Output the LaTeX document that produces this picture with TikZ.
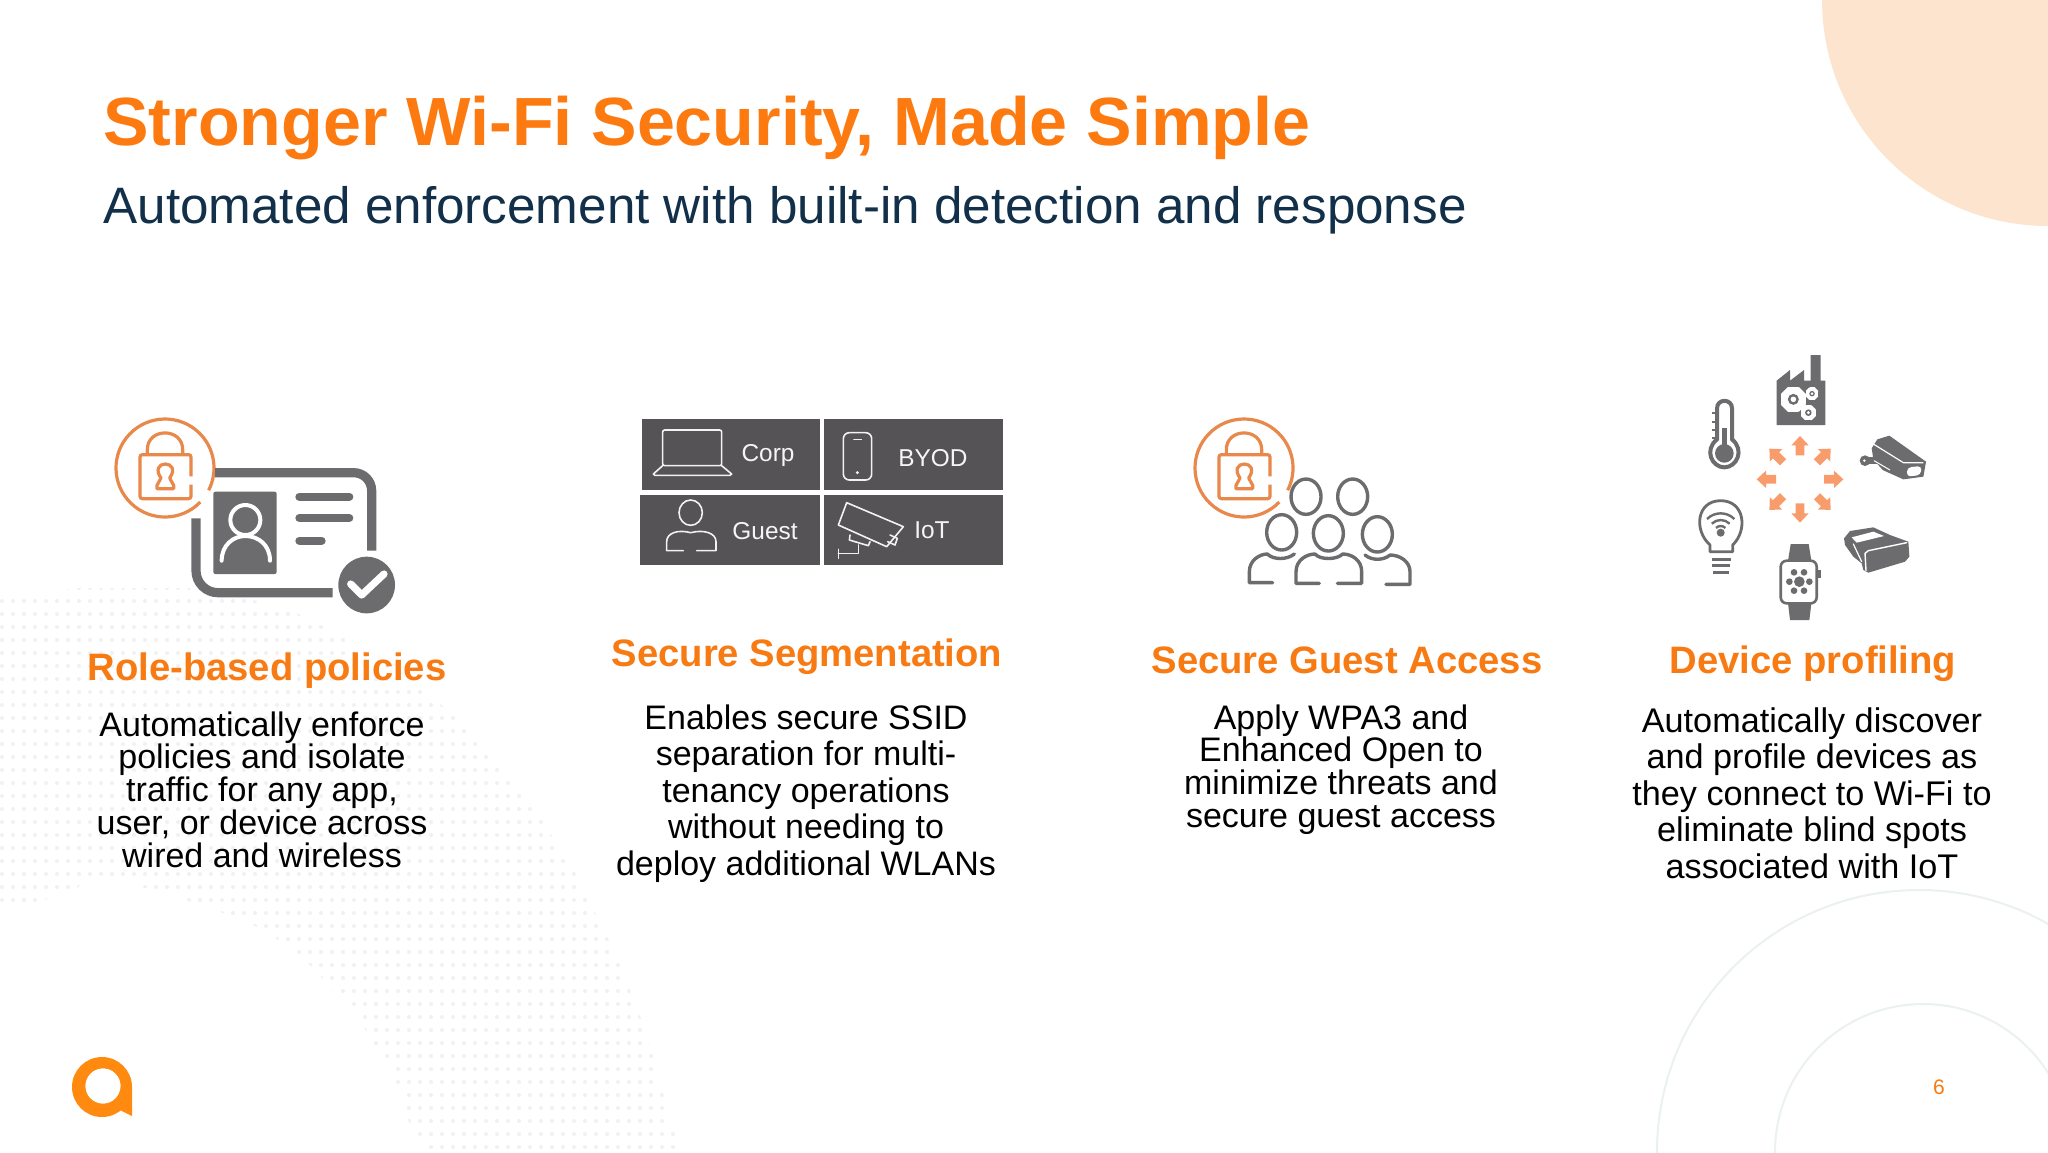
\documentclass[tikz,border=0pt]{standalone}
\usepackage{fontspec}
\setmainfont{Liberation Sans}
\definecolor{peach}{HTML}{FDE4CF}
\definecolor{ringc}{HTML}{EBF0F1}
\definecolor{dotc}{HTML}{F1F1F3}
\definecolor{headorange}{HTML}{F87A12}
\definecolor{titleorange}{HTML}{FC7A10}
\definecolor{navy}{HTML}{12304A}
\definecolor{logoor}{HTML}{FF8A0F}
\definecolor{lockor}{HTML}{E8884A}
\definecolor{icong}{HTML}{6C6C6E}
\definecolor{boxg}{HTML}{555355}
\definecolor{burstc}{HTML}{F99C6C}
\tikzset{
  headtext/.style={anchor=base,inner sep=0pt,text=headorange,font=\bfseries\fontsize{19.1}{22}\selectfont},
  bodytext/.style={anchor=north,align=center,inner sep=0pt,text=black},
  boxlabel/.style={inner sep=0pt,text=white!92!gray,font=\fontsize{12.2}{14}\selectfont},
  lockline/.style={draw=lockor,line width=1.6pt,fill=none},
  cardline/.style={draw=icong,line width=4.6pt,line cap=round},
  boxline/.style={draw=white!90!gray,line width=.8pt,line cap=round,line join=round},
  peopleline/.style={draw=icong,line width=1.7pt,line cap=round,line join=round},
  zoomscale/.style={x=.16667pt,y=-.16667pt}
}
\newcommand\locksign[1]{%
  \begin{scope}[shift={#1},zoomscale]
    \draw[lockline] (0,0) ++(44:147) arc[start angle=44,end angle=387,radius=147];
    \draw[lockline,rounded corners=1.2pt] (78,25) -- (78,-40) -- (-75,-40) -- (-75,92) -- (78,92) -- (78,50);
    \draw[lockline] (-53,-40) -- (-53,-55) .. controls (-53,-122) and (53,-122) .. (53,-55) -- (53,-40);
    \draw[lockline,line join=round] (-12,30) .. controls (-30,5) and (-18,-12) .. (1,-12) .. controls (20,-12) and (32,5) .. (14,30) -- (26,52) -- (26,62) -- (-24,62) -- (-24,52) -- cycle;
  \end{scope}}
\newcommand\burst[1]{%
  \begin{scope}[shift={(1800,479.3)},rotate=#1,zoomscale]
    \fill[burstc] (72,-13) -- (102,-13) -- (102,-26) -- (130,0) -- (102,26) -- (102,13) -- (72,13) -- cycle;
  \end{scope}}
\newcommand\gearz[3]{%
  \foreach \a in {0,45,...,315}{\draw[white,line width=#3] (#1) ++(\a:#2*.85) -- ++(\a:#2*.42);}
  \fill[white] (#1) circle[radius=#2];
  \fill[icong] (#1) circle[radius=#2*.55];
  \fill[white] (#1) circle[radius=#2*.28];}
\begin{document}
\begin{tikzpicture}[x=.5pt,y=-.5pt]
\useasboundingbox (0,0) rectangle (2048,1152);
\fill[white] (0,0) rectangle (2048,1152);
% background art
\begin{scope}
  \clip (0,0) rectangle (2048,1152);
  \fill[peach] (2048,0) circle[radius=226];
  \draw[ringc,line width=1pt] (1919,1152) circle[radius=262];
  \draw[ringc,line width=1pt] (1923,1152) circle[radius=148];
\end{scope}
\begin{scope}
  \clip (0,597) -- (80,588) -- (200,588) .. controls (260,600) and (300,612) .. (330,628)
     -- (375,655) -- (464,722) -- (527,798) -- (571,865) -- (616,954) -- (647,1034) -- (670,1119) -- (681,1152)
     -- (435,1152) -- (415,1141) -- (393,1074) -- (357,1016) -- (312,967) -- (268,932)
     .. controls (200,900) and (130,885) .. (94,873) -- (76,889) -- (27,905) -- (0,905) -- cycle;
  \fill[dotc] foreach \r in {0,...,44}{ foreach \c in {0,...,62}{ (\c*11+2,588+\r*13) circle[radius=2] } };
\end{scope}
% titles
\node[anchor=base west,inner sep=0pt,text=titleorange,font=\bfseries\fontsize{34.1}{38}\selectfont] (title) at (103,145) {Stronger Wi-Fi Security, Made Simple};
\node[anchor=base west,inner sep=0pt,text=navy,font=\fontsize{25.6}{30}\selectfont] (subtitle) at (103,223) {Automated enforcement with built-in detection and response};
% headings
\node[headtext] (h1) at (267,680) {Role-based policies};
\node[headtext] (h2) at (807,666) {Secure Segmentation};
\node[headtext] (h3) at (1347,673) {Secure Guest Access};
\node[headtext] (h4) at (1813,673) {Device profiling};
% bodies
\node[bodytext,font=\fontsize{17}{16.4}\selectfont] (b1) at (262,711) {Automatically enforce\\policies and isolate\\traffic for any app,\\user, or device across\\wired and wireless};
\node[bodytext,font=\fontsize{17}{18.3}\selectfont] (b2) at (806,704) {Enables secure SSID\\separation for multi-\\tenancy operations\\without needing to\\deploy additional WLANs};
\node[bodytext,font=\fontsize{17}{16.4}\selectfont] (b3) at (1341,704) {Apply WPA3 and\\Enhanced Open to\\minimize threats and\\secure guest access};
\node[bodytext,font=\fontsize{17.1}{18.3}\selectfont] (b4) at (1812,707) {Automatically discover\\and profile devices as\\they connect to Wi-Fi to\\eliminate blind spots\\associated with IoT};
\node[inner sep=0pt,text=headorange,font=\fontsize{10.5}{12}\selectfont] (pg) at (1939,1087) {6};
% logo
\fill[logoor,even odd rule] (102,1087) circle[radius=30] (103,1086) circle[radius=17.5];
\fill[logoor] (112,1110) -- (120,1110) -- (132,1116) -- (132,1087) -- (115,1087) -- cycle;
\fill[white] (103,1086) circle[radius=17.5];
% role icon
\locksign{(165,468)}
\begin{scope}[shift={(90,400)},zoomscale]
  \draw[cardline,rounded corners=9pt,line cap=butt] (375,218) -- (845,218) -- (845,452);
  \draw[cardline,rounded corners=11pt,line cap=butt] (318,355) -- (318,578) -- (728,578);
  \fill[icong,rounded corners=1pt] (370,275) rectangle (560,522);
  \draw[white,line width=2pt] (466,360) circle[radius=45];
  \draw[white,line width=2pt,line cap=round] (395,482) .. controls (395,435) and (430,408) .. (466,408) .. controls (505,408) and (540,435) .. (540,482);
  \draw[cardline,line width=4pt] (628,290) -- (778,290);
  \draw[cardline,line width=4pt] (628,354) -- (778,354);
  \draw[cardline,line width=4pt] (628,422) -- (695,422);
  \fill[icong] (830,555) circle[radius=85];
  \draw[white,line width=3.6pt,line cap=round,line join=round] (782,552) -- (815,585) -- (882,522);
\end{scope}
% segmentation box
\begin{scope}[shift={(620,400)},zoomscale]
  \fill[boxg] (65,58) rectangle (601,270);
  \fill[boxg] (612,58) rectangle (1150,270);
  \fill[boxg] (61,286) rectangle (601,496);
  \fill[boxg] (612,286) rectangle (1150,496);
  \draw[boxline,rounded corners=1pt] (128,197) -- (128,90) -- (305,90) -- (305,197) -- cycle;
  \draw[boxline] (128,197) -- (100,222) -- (105,226) -- (330,226) -- (335,222) -- (305,197);
  \draw[boxline,rounded corners=3pt] (670,98) rectangle (755,240);
  \draw[boxline] (702,118) -- (724,118);
  \fill[white!90!gray] (712,218) circle[radius=5];
  \draw[boxline] (212,338) ellipse[x radius=35,y radius=38];
  \draw[boxline] (190,452) -- (140,452) -- (140,425) .. controls (140,398) and (175,388) .. (212,398) .. controls (250,388) and (288,398) .. (288,425) -- (288,452) -- (230,452);
  \draw[boxline] (680,308) -- (850,380) -- (800,440) -- (655,375) -- cycle;
  \draw[boxline] (690,405) -- (688,420) -- (745,437) -- (750,425);
  \draw[boxline] (715,435) -- (715,460) -- (655,460);
  \draw[boxline] (655,448) -- (655,475);
  \draw[boxline] (810,405) -- (832,415) -- (825,435) -- (803,425);
\end{scope}
\node[boxlabel] (corp) at (768,456) {Corp};
\node[boxlabel] (byod) at (933,458) {BYOD};
\node[boxlabel] (guest) at (765,531) {Guest};
\node[boxlabel] (iot) at (932,530) {IoT};
% guest icon
\locksign{(1244,468)}
\begin{scope}[shift={(1180,400)},zoomscale]
  \draw[peopleline] (378,290) ellipse[x radius=45,y radius=53];
  \draw[peopleline] (518,290) ellipse[x radius=45,y radius=53];
  \draw[peopleline] (305,397) ellipse[x radius=45,y radius=53];
  \draw[peopleline] (445,400) ellipse[x radius=45,y radius=53];
  \draw[peopleline] (592,403) ellipse[x radius=45,y radius=53];
  \draw[peopleline] (278,548) -- (208,548) -- (208,515) .. controls (208,480) and (240,462) .. (262,462) .. controls (280,480) and (320,480) .. (343,462);
  \draw[peopleline] (418,550) -- (348,550) -- (348,515) .. controls (348,480) and (380,462) .. (405,462) .. controls (420,480) and (470,480) .. (488,462) .. controls (515,462) and (545,480) .. (545,515) -- (545,550) -- (472,550);
  \draw[peopleline] (555,465) .. controls (575,482) and (610,482) .. (630,465) .. controls (660,465) and (690,485) .. (690,515) -- (690,553) -- (618,553);
\end{scope}
% device profiling icon
\foreach \a in {0,45,...,315}{\burst{\a}}
\begin{scope}[shift={(1670,340)},zoomscale]
  % factory
  \fill[icong] (320,255) -- (320,122) -- (360,90) -- (360,122) -- (402,90) -- (402,122) -- (422,122) -- (422,45) -- (452,45) -- (452,122) -- (466,122) -- (466,255) -- cycle;
  \gearz{370,178}{30}{5pt}
  \gearz{426,161}{15}{2.5pt}
  \gearz{415,218}{18}{3pt}
  % thermometer
  \draw[icong,line width=2pt] (141,298) -- (141,205) .. controls (141,175) and (186,175) .. (186,205) -- (186,298) .. controls (225,330) and (200,382) .. (163,382) .. controls (126,382) and (101,330) .. (141,298) -- cycle;
  \fill[icong] (155,265) rectangle (172,320);
  \fill[icong] (163,340) circle[radius=28];
  \foreach \yy in {220,245,270,295}{\draw[icong,line width=1.1pt] (127,\yy) -- (141,\yy);}
  % bulb
  \draw[icong,line width=1.4pt,line join=round] (120,635) -- (120,615) .. controls (70,570) and (80,482) .. (152,482) .. controls (224,482) and (234,570) .. (188,615) -- (188,635) -- cycle;
  \foreach \yy/\xa/\xb in {658/125/183,677/127/181,697/130/177}{\draw[icong,line width=1.3pt] (\xa,\yy) -- (\xb,\yy);}
  \draw[icong,line width=1.2pt] (152,578) ++(225:20) arc[start angle=225,end angle=315,radius=20];
  \draw[icong,line width=1.2pt] (152,578) ++(-135:38) arc[start angle=-135,end angle=-45,radius=38];
  \draw[icong,line width=1.2pt] (152,578) ++(-135:58) arc[start angle=-135,end angle=-45,radius=58];
  \fill[icong] (152,578) circle[radius=12];
  % watch
  \fill[icong] (362,612) -- (416,612) -- (424,662) -- (354,662) -- cycle;
  \fill[icong] (354,790) -- (424,790) -- (418,840) -- (360,840) -- cycle;
  \draw[icong,line width=1.3pt,fill=white,rounded corners=3pt] (332,662) rectangle (440,790);
  \fill[icong] (442,690) rectangle (452,715);
  \fill[icong] (388,725) circle[radius=16];
  \foreach \dx/\dy in {372/697,402/697,358/725,418/725,372/752,402/752}{\fill[icong] (\dx,\dy) circle[radius=10];}
\end{scope}
\begin{scope}[shift={(1840,420)},zoomscale]
  % camera
  \fill[icong,line join=round] (95,85) -- (112,58) -- (148,47) -- (258,125) -- (250,170) -- (190,178) -- (150,160) -- (128,150) -- (100,118) -- cycle;
  \fill[icong] (75,122) circle[radius=16];
  \fill[icong] (75,112) rectangle (110,132);
  \fill[white] (73,122) circle[radius=4];
  \draw[white,line width=.6pt] (100,72) -- (190,128) -- (250,128);
  \draw[white,line width=.5pt] (102,122) -- (150,150);
  \fill[white,rounded corners=2pt] (202,142) -- (245,138) -- (242,165) -- (200,170) -- cycle;
  % VR
  \fill[icong,line join=round] (12,355) -- (30,333) -- (100,322) -- (150,345) -- (205,365) -- (208,410) -- (195,425) -- (85,458) -- (70,450) -- (65,430) -- (40,410) -- (15,375) -- cycle;
  \fill[white] (35,352) -- (100,335) -- (132,348) -- (50,368) -- cycle;
  \draw[white,line width=.7pt,line cap=round,line join=round] (200,368) -- (85,392) -- (75,400) -- (78,452);
  \draw[white,line width=.6pt,line cap=round] (40,372) -- (65,425);
\end{scope}
\end{tikzpicture}
\end{document}
